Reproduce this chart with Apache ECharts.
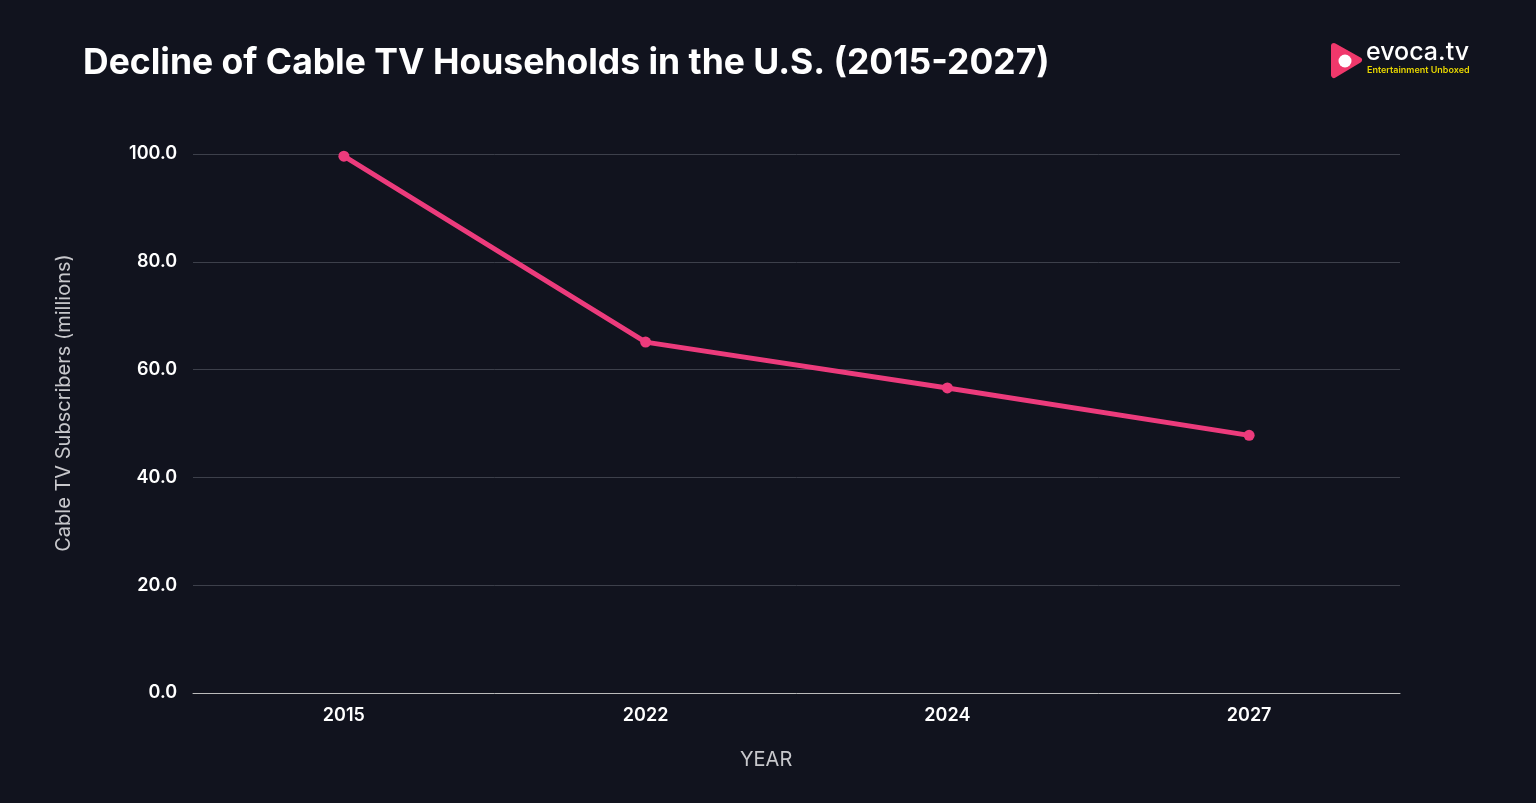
<!DOCTYPE html>
<html>
<head>
<meta charset="utf-8">
<style>
html, body { margin: 0; height: 100%; background: #11131e; }
#main { width: 1536px; height: 803px; }
</style>
</head>
<body>
<div id="main"></div>
<script src="https://cdn.jsdelivr.net/npm/echarts@6/dist/echarts.min.js"></script>
<script>
var years = ['2015', '2022', '2024', '2027'];
var subscribers = [99.6, 65.1, 56.6, 47.8];

var chart = echarts.init(document.getElementById('main'));
chart.setOption({
	backgroundColor: '#11131e',
	textStyle: { fontFamily: 'Inter' },
	title: {
		text: 'Decline of Cable TV Households in the U.S. (2015-2027)',
		left: 78, top: 40,
		textStyle: { color: '#fff', fontSize: 35.5, fontWeight: 'bold', fontFamily: 'Inter' }
	},
	graphic: [
		{ type: 'polygon', shape: { points: [[1334, 46], [1359, 60], [1334, 75]] }, style: { fill: '#f0386b', lineJoin: 'round', stroke: '#f0386b', lineWidth: 6 } },
		{ type: 'circle', shape: { cx: 1345, cy: 61, r: 6.5 }, style: { fill: '#fff' } },
		{ type: 'text', left: 1366, top: 40, style: { text: 'evoca.tv', fill: '#fff', font: '500 25px Inter' } },
		{ type: 'text', left: 1367, top: 66, style: { text: 'Entertainment Unboxed', fill: '#e8d600', font: '600 9px Inter' } },
		{ type: 'text', left: 740, top: 750, style: { text: 'YEAR', fill: '#c8c8cc', font: '20px Inter' } },
		{ type: 'text', x: 54, y: 403, rotation: Math.PI / 2, style: { text: 'Cable TV Subscribers (millions)', fill: '#c8c8cc', font: '20px Inter', align: 'center', verticalAlign: 'top' } }
	],
	grid: { left: 193, right: 136, top: 154, bottom: 110 },
	xAxis: {
		type: 'category', data: years,
		axisLine: { lineStyle: { color: '#bbbbbb' } },
		axisTick: { show: false },
		axisLabel: { color: '#fff', fontSize: 18, fontWeight: 600, margin: 14 }
	},
	yAxis: {
		type: 'value', min: 0, max: 100, interval: 20,
		axisLabel: { color: '#fff', fontSize: 18, fontWeight: 600, margin: 16, formatter: function (v) { return v.toFixed(1); } },
		splitLine: { lineStyle: { color: '#3d404b' } }
	},
	series: [{
		type: 'line', data: subscribers,
		symbol: 'circle', symbolSize: 11,
		lineStyle: { color: '#ec3b7c', width: 5 },
		itemStyle: { color: '#ec3b7c' }
	}]
});
</script>
</body>
</html>
